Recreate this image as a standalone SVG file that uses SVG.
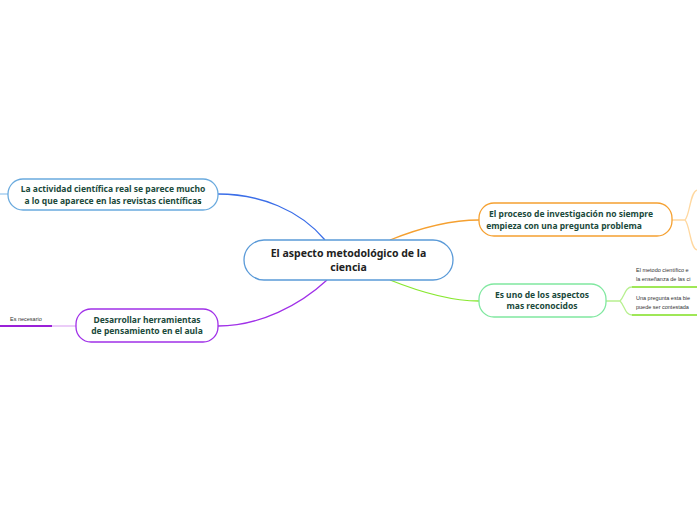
<svg xmlns="http://www.w3.org/2000/svg" width="697" height="520" viewBox="0 0 697 520">
<style>
.n{fill:#fff;stroke-width:1.3}
.t{font-family:"Noto Sans",sans-serif;font-size:8.5px;font-weight:bold;fill:#1b4a3c;text-anchor:middle}
.c{font-family:"Noto Sans",sans-serif;font-size:10.5px;font-weight:bold;fill:#222;text-anchor:middle}
.s{font-family:"Liberation Sans",sans-serif;font-size:5.5px;fill:#333}
.l{fill:none;stroke-width:1.3}
</style>
<rect width="697" height="520" fill="#fff"/>
<g id="connectors">
<path class="l" stroke="#3b6ee8" d="M325,240 C300,210 260,194 218,194"/>
<path class="l" stroke="#f5a030" d="M390,240 C420,228 450,220 479,220"/>
<path class="l" stroke="#88e830" d="M390,280 C420,292 450,301 479,301"/>
<path class="l" stroke="#a030e8" d="M327,280 C300,305 260,326 218,326"/>
<path class="l" stroke="#9ac8ee" d="M0,194 H8"/>
<path class="l" stroke="#e0b0f5" d="M76,326 H52"/>
<path stroke="#9a20d8" stroke-width="2" d="M52,326 H0"/>
<path class="l" stroke="#ffd8a0" d="M672,220 H685 M685,220 C690,215 690,192 697,190 M685,220 C690,225 690,248 697,250"/>
<path class="l" stroke="#b8f090" d="M606,301 H620 M620,301 C625,296 625,287 632,287 M620,301 C625,306 625,315 632,315"/>
<path stroke="#80e020" stroke-width="1.5" d="M632,287 H697 M632,315 H697"/>
</g>
<g id="center"><rect class="n" x="244" y="240" width="209" height="40" rx="20" stroke="#5a9ad8"/>
<text class="c" x="348.5" y="257">El aspecto metodológico de la</text><text class="c" x="348.5" y="271">ciencia</text></g>
<g id="n1"><rect class="n" x="8" y="179" width="210" height="31" rx="15" stroke="#6aaade"/>
<text class="t" x="113" y="192">La actividad científica real se parece mucho</text><text class="t" x="113" y="204">a lo que aparece en las revistas científicas</text>
<path d="M198,204 l3,-3 v3z" fill="#1b4a3c"/></g>
<g id="n2"><rect class="n" x="76" y="309" width="142" height="33" rx="15" stroke="#a030e8"/>
<text class="t" x="147" y="323">Desarrollar herramientas</text><text class="t" x="147" y="334">de pensamiento en el aula</text></g>
<text class="s" x="10" y="321">Es necesario</text>
<g id="n3"><rect class="n" x="479" y="203" width="193" height="33" rx="15" stroke="#f5a030"/>
<text class="t" x="571" y="217">El proceso de investigación no siempre</text><text class="t" x="564" y="229">empieza con una pregunta problema</text></g>
<g id="n4"><rect class="n" x="479" y="284" width="127" height="33" rx="15" stroke="#80e8a0"/>
<text class="t" x="542" y="298">Es uno de los aspectos</text><text class="t" x="542" y="309">mas reconocidos</text></g>
<text class="s" x="636" y="272">El metodo científico e</text>
<text class="s" x="636" y="281">la enseñanza de las ci</text>
<text class="s" x="636" y="300">Una pregunta esta bie</text>
<text class="s" x="636" y="309">puede ser contestada</text>
</svg>
